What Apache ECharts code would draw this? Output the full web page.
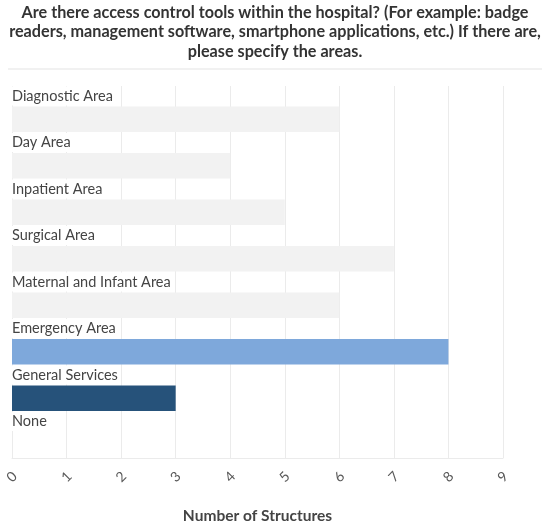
<!DOCTYPE html>
<html>
<head>
<meta charset="utf-8">
<script src="https://cdn.jsdelivr.net/npm/echarts@6/dist/echarts.min.js"></script>
<style>
  html, body { margin: 0; padding: 0; background: #fff; }
  #chart { width: 550px; height: 529px; }
</style>
</head>
<body>
<div id="chart"></div>
<script>
const titleText = 'Are there access control tools within the hospital? (For example: badge\nreaders, management software, smartphone applications, etc.) If there are,\nplease specify the areas.';
const axisTitle = 'Number of Structures';

const categories = ['Diagnostic Area', 'Day Area', 'Inpatient Area', 'Surgical Area',
    'Maternal and Infant Area', 'Emergency Area', 'General Services', 'None'];
const structures = [6, 4, 5, 7, 6, 8, 3, 0];

// highlighted bars, everything else stays light gray
const barColors = { 'Emergency Area': '#7ea8db', 'General Services': '#26527a' };
const FONT = 'Lato';

const chart = echarts.init(document.getElementById('chart'));

const option = {
    animation: false,
    textStyle: { fontFamily: FONT },
    graphic: [
        {
            type: 'text',
            x: 275,
            y: 3,
            style: {
                text: titleText,
                align: 'center',
                verticalAlign: 'top',
                font: 'bold 16.2px Lato',
                fill: '#333',
                lineHeight: 19.5
            }
        },
        {
            type: 'line',
            shape: { x1: 8, y1: 69, x2: 542, y2: 69 },
            style: { stroke: '#e3e3e3', lineWidth: 1 }
        }
    ],
    grid: { left: 12, right: 47, top: 86, bottom: 63, containLabel: false },
    xAxis: {
        type: 'value',
        min: 0,
        max: 9,
        interval: 1,
        name: axisTitle,
        nameLocation: 'middle',
        nameGap: 50,
        nameTextStyle: { fontFamily: FONT, fontSize: 15.5, fontWeight: 'bold', color: '#444' },
        axisLine: { show: true, lineStyle: { color: '#ebebeb' } },
        axisTick: { show: false },
        axisLabel: { rotate: 45, color: '#5a5a5a', fontSize: 14, margin: 19, align: 'center', verticalAlign: 'middle' },
        splitLine: { show: true, lineStyle: { color: '#ebebeb', width: 1 } }
    },
    yAxis: {
        type: 'category',
        data: categories,
        inverse: true,
        axisLine: { show: false },
        axisTick: { show: false },
        axisLabel: { show: false },
        splitLine: { show: false }
    },
    series: [
        {
            // spacer so the real bar sits in the lower part of each band
            type: 'bar',
            data: categories.map(() => 0),
            barWidth: 25.5,
            barGap: '-21.6%',
            silent: true,
            itemStyle: { color: 'rgba(0,0,0,0)' }
        },
        {
            type: 'bar',
            data: structures.map((v, i) => ({
                value: v,
                itemStyle: { color: barColors[categories[i]] || '#f2f2f2' }
            })),
            barWidth: 25.5,
            label: {
                show: true,
                position: [0, -20],
                formatter: p => p.name,
                color: '#444',
                fontSize: 14.5,
                fontFamily: FONT,
                backgroundColor: '#fff',
                padding: [1, 3, 1, 0],
                lineHeight: 17
            }
        }
    ]
};

chart.setOption(option);
</script>
</body>
</html>
